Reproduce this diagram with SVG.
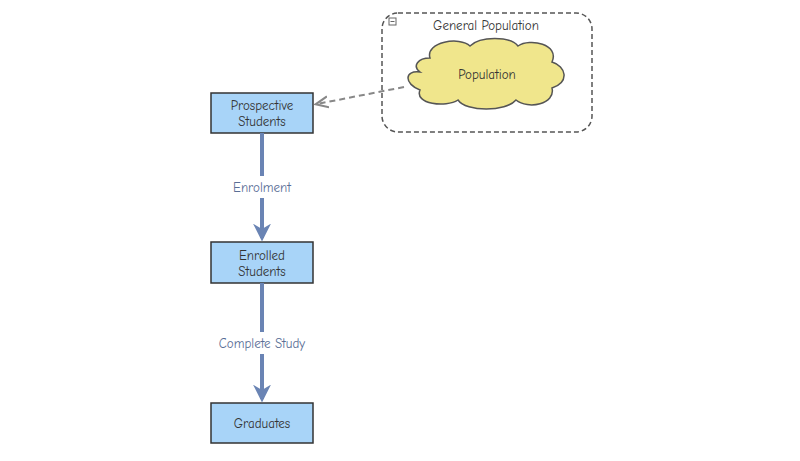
<svg xmlns="http://www.w3.org/2000/svg" width="800" height="461" viewBox="0 0 800 461">
<style>
text{font-family:"Comic Neue","Liberation Sans",sans-serif;font-size:13px;fill:#333;text-anchor:middle}
.box{fill:#a8d4f8;stroke:#333;stroke-width:1.5}
.flow{stroke:#6a84b4;stroke-width:4;fill:none}
.lbl{fill:#5a6e96}
</style>
<defs>
<marker id="ah" viewBox="0 0 10 10" refX="8" refY="5" markerWidth="4.5" markerHeight="4.5" orient="auto" markerUnits="strokeWidth"><path d="M0,0L10,5L0,10L3,5z" fill="#6a84b4"/></marker>
<marker id="ag" viewBox="0 0 10 10" refX="8" refY="5" markerWidth="7" markerHeight="7" orient="auto" markerUnits="strokeWidth"><path d="M0,1L9,5L0,9" fill="none" stroke="#888" stroke-width="1.5"/></marker>
</defs>
<g id="general-population">
<rect x="382" y="13" width="210" height="119" rx="16" fill="none" stroke="#555" stroke-width="1.5" stroke-dasharray="5,3"/>
<rect x="389" y="18" width="7" height="7" fill="#fff" stroke="#666" stroke-width="1"/>
<line x1="390.5" y1="21.5" x2="394.5" y2="21.5" stroke="#666"/>
<text x="486" y="30">General Population</text>
</g>
<g id="population">
<path d="M430,58 C425,42 460,36 470,46 C480,36 510,36 518,46 C530,38 560,44 552,62 C566,66 570,82 552,88 C556,104 528,110 516,100 C506,112 466,112 458,100 C446,108 414,104 420,90 C404,84 404,70 420,72 C412,66 418,58 430,58 Z" fill="#f0e68c" stroke="#555" stroke-width="1.5"/>
<text x="487" y="79">Population</text>
</g>
<g id="prospective"><rect class="box" x="211" y="93" width="102" height="40"/><text x="262" y="110">Prospective</text><text x="262" y="126">Students</text></g>
<g id="enrolled"><rect class="box" x="211" y="242" width="102" height="41"/><text x="262" y="260">Enrolled</text><text x="262" y="276">Students</text></g>
<g id="graduates"><rect class="box" x="211" y="403" width="102" height="40"/><text x="262" y="428">Graduates</text></g>
<g id="connectors">
<path d="M404,87 L317,104" stroke="#888" stroke-width="2" stroke-dasharray="6,4" fill="none" marker-end="url(#ag)"/>
<path class="flow" d="M262,133 V176 M262,198 V238" marker-end="url(#ah)"/>
<text class="lbl" x="262" y="192">Enrolment</text>
<path class="flow" d="M262,283 V332 M262,354 V399" marker-end="url(#ah)"/>
<text class="lbl" x="262" y="348">Complete Study</text>
</g>
</svg>
